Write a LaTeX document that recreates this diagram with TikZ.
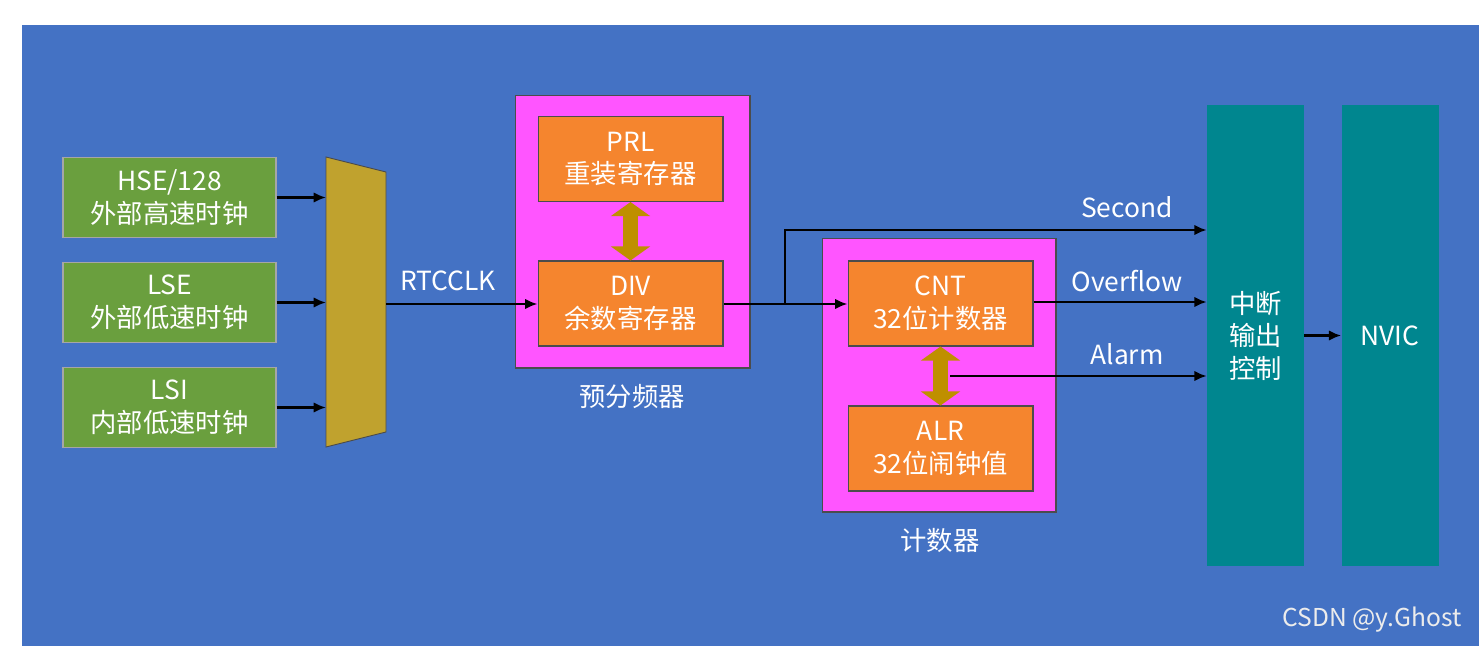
\documentclass[tikz,border=0pt]{standalone}
\usepackage{fontspec}
\setmainfont{Noto Sans CJK SC}
\usetikzlibrary{arrows.meta}
\definecolor{bgblue}{HTML}{4472C4}
\definecolor{grn}{HTML}{6A9F3E}
\definecolor{mux}{HTML}{C0A22E}
\definecolor{mag}{HTML}{FF55FF}
\definecolor{org}{HTML}{F5852E}
\definecolor{gold}{HTML}{BF8F00}
\definecolor{teal}{HTML}{00868F}
\begin{document}
\begin{tikzpicture}[x=0.02cm,y=-0.02cm,
  txt/.style={text=white,font=\fontsize{15}{18.5}\selectfont,align=center},
  gbox/.style={txt,fill=grn,draw=gray!70,line width=0.6pt,minimum width=4.26cm,minimum height=1.6cm,inner sep=0},
  obox/.style={txt,fill=org,draw=gray!60!black,line width=0.6pt,minimum width=3.7cm,minimum height=1.7cm,inner sep=0},
  pbox/.style={fill=mag,draw=gray!60!black,line width=0.6pt},
  bar/.style={txt,fill=teal,minimum width=1.94cm,minimum height=9.22cm,inner sep=0},
  arr/.style={-{Latex[length=7pt,width=6pt]},line width=1.5pt,black},
  dbl/.style={{Triangle[length=8pt,width=22pt]}-{Triangle[length=8pt,width=22pt]},line width=8pt,gold},
  lbl/.style={text=white,font=\fontsize{15}{18.5}\selectfont}]
\useasboundingbox (0,0) rectangle (1479,646);
\fill[white] (0,0) rectangle (1479,646);
\fill[bgblue] (22,25) rectangle (1479,646);
% sources
\node[gbox] (hse) at (169.5,197.5) {HSE/128\\外部高速时钟};
\node[gbox] (lse) at (169.5,302.5) {LSE\\外部低速时钟};
\node[gbox] (lsi) at (169.5,407.5) {LSI\\内部低速时钟};
\fill[mux,draw=gray!60!black,line width=0.5pt] (326,157) -- (386,172) -- (386,432) -- (326,447) -- cycle;
\coordinate (muxin1) at (326,197.5);
\coordinate (muxin2) at (326,302.5);
\coordinate (muxin3) at (326,407.5);
\coordinate (muxout) at (386,304);
\draw[arr] (hse.east) -- (muxin1);
\draw[arr] (lse.east) -- (muxin2);
\draw[arr] (lsi.east) -- (muxin3);
% prescaler
\node[pbox,minimum width=4.7cm,minimum height=5.46cm] (pre) at (632.5,231.5) {};
\node[obox] (prl) at (630.5,159) {PRL\\重装寄存器};
\node[obox] (div) at (630.5,303.5) {DIV\\余数寄存器};
\draw[dbl] (prl.south) -- (div.north);
\node[lbl] (prelbl) at (632,397) {预分频器};
\draw[arr] (muxout) -- (div.west |- muxout);
\node[lbl] (rtc) at (448,281) {RTCCLK};
% counter
\node[pbox,minimum width=4.68cm,minimum height=5.48cm] (cntbox) at (939,375) {};
\node[obox] (cnt) at (940.5,303.5) {CNT\\32位计数器};
\node[obox] (alr) at (940.5,448.5) {ALR\\32位闹钟值};
\draw[dbl] (cnt.south) -- (alr.north);
\node[lbl] (cntlbl) at (940,541) {计数器};
% bars
\node[bar] (irq) at (1255.5,335.5) {中断\\输出\\控制};
\node[bar] (nvic) at (1390,335.5) {NVIC};
\coordinate (br) at (785,304);
\draw[arr] (div.east |- br) -- (cnt.west |- br);
\draw[arr] (br) -- (785,230) -- (irq.west |- 0,230);
\node[lbl] (sec) at (1127,207) {Second};
\draw[arr] (cnt.east |- 0,302) -- (irq.west |- 0,302);
\node[lbl] (ovf) at (1127,281) {Overflow};
\coordinate (al) at (950,376);
\draw[arr] (al) -- (irq.west |- al);
\node[lbl] (alm) at (1127,354) {Alarm};
\draw[arr] (irq.east) -- (nvic.west);
\node[text=white!85!gray,font=\fontsize{14}{17}\selectfont] (wm) at (1372,620) {CSDN @y.Ghost};
\end{tikzpicture}
\end{document}
